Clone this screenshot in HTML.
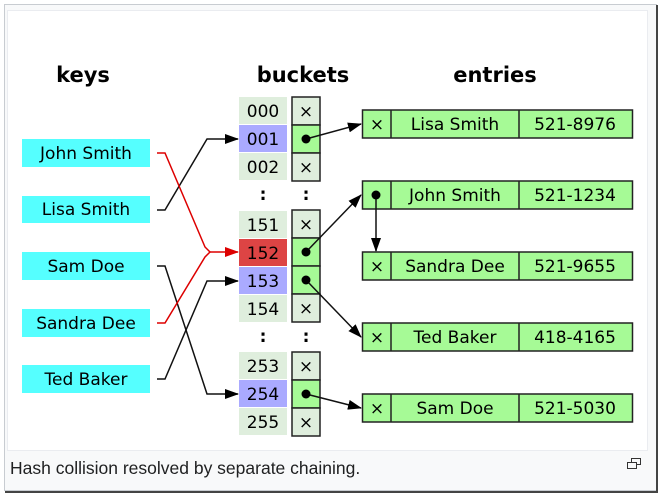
<!DOCTYPE html>
<html><head><meta charset="utf-8"><style>
html,body{margin:0;padding:0;width:662px;height:496px;background:#fff;overflow:hidden}
</style></head><body>
<svg width="662" height="496" viewBox="0 0 662 496" xmlns="http://www.w3.org/2000/svg" font-family="DejaVu Sans, Liberation Sans, sans-serif">
<defs>
<marker id="a" markerWidth="14" markerHeight="10" refX="13" refY="5" orient="auto" markerUnits="userSpaceOnUse"><path d="M0,0 L14,5 L0,10 z" fill="#000"/></marker>
<marker id="r" markerWidth="14" markerHeight="10" refX="13" refY="5" orient="auto" markerUnits="userSpaceOnUse"><path d="M0,0 L14,5 L0,10 z" fill="#d00"/></marker>
</defs>
<rect x="0" y="0" width="662" height="496" fill="#fff"/>
<rect x="4.5" y="4.5" width="652" height="486" fill="#f8f9fa" stroke="#c8ccd1"/>
<line x1="657" y1="5" x2="657" y2="492" stroke="#444" stroke-width="2"/>
<line x1="5" y1="492" x2="658" y2="492" stroke="#444" stroke-width="2"/>
<rect x="7.5" y="10.5" width="640" height="440" fill="#fff" stroke="#eaecf0"/>
<g font-weight="bold" font-size="21" text-anchor="middle" fill="#000">
<text x="83" y="82">keys</text><text x="303" y="82">buckets</text><text x="495" y="82">entries</text></g>
<g font-size="17" text-anchor="middle" fill="#000">
<rect x="22" y="139" width="128" height="28" fill="#5ff"/><text x="86" y="159">John Smith</text>
<rect x="22" y="196" width="128" height="27" fill="#5ff"/><text x="86" y="215">Lisa Smith</text>
<rect x="22" y="252" width="128" height="28" fill="#5ff"/><text x="86" y="272">Sam Doe</text>
<rect x="22" y="309" width="128" height="28" fill="#5ff"/><text x="86" y="329">Sandra Dee</text>
<rect x="22" y="365" width="128" height="28" fill="#5ff"/><text x="86" y="385">Ted Baker</text>
</g>
<g font-size="17" text-anchor="middle">
<rect x="239" y="97" width="48" height="27" fill="#dfeedd"/><text x="263" y="117">000</text>
<rect x="239" y="125" width="48" height="27" fill="#aaf"/><text x="263" y="145">001</text>
<rect x="239" y="153" width="48" height="27" fill="#dfeedd"/><text x="263" y="173">002</text>
<rect x="239" y="211" width="48" height="27" fill="#dfeedd"/><text x="263" y="231">151</text>
<rect x="239" y="239" width="48" height="27" fill="#d44"/><text x="263" y="259">152</text>
<rect x="239" y="267" width="48" height="27" fill="#aaf"/><text x="263" y="287">153</text>
<rect x="239" y="295" width="48" height="27" fill="#dfeedd"/><text x="263" y="315">154</text>
<rect x="239" y="352" width="48" height="27" fill="#dfeedd"/><text x="263" y="372">253</text>
<rect x="239" y="380" width="48" height="27" fill="#aaf"/><text x="263" y="400">254</text>
<rect x="239" y="408" width="48" height="27" fill="#dfeedd"/><text x="263" y="428">255</text>
<text x="263" y="200" font-weight="bold">:</text><text x="306" y="200" font-weight="bold">:</text>
<text x="263" y="342" font-weight="bold">:</text><text x="306" y="342" font-weight="bold">:</text>
</g>
<g stroke="#222" stroke-width="1.5">
<rect x="292" y="97" width="28" height="28" fill="#dfeedd"/><rect x="292" y="125" width="28" height="28" fill="#a6fa96"/><rect x="292" y="153" width="28" height="28" fill="#dfeedd"/>
<rect x="292" y="210" width="28" height="28" fill="#dfeedd"/><rect x="292" y="238" width="28" height="28" fill="#a6fa96"/><rect x="292" y="266" width="28" height="28" fill="#a6fa96"/><rect x="292" y="294" width="28" height="28" fill="#dfeedd"/>
<rect x="292" y="352" width="28" height="28" fill="#dfeedd"/><rect x="292" y="380" width="28" height="28" fill="#a6fa96"/><rect x="292" y="408" width="28" height="28" fill="#dfeedd"/>
</g>
<g font-size="17" text-anchor="middle">
<text x="306" y="117">×</text><text x="306" y="173">×</text><text x="306" y="230">×</text><text x="306" y="314">×</text><text x="306" y="372">×</text><text x="306" y="428">×</text>
</g>
<g stroke="#222" stroke-width="1.5" fill="#a6fa96">
<rect x="362.5" y="110" width="270" height="28"/><line x1="391" y1="110" x2="391" y2="138"/><line x1="519" y1="110" x2="519" y2="138"/>
<rect x="362.5" y="181" width="270" height="28"/><line x1="391" y1="181" x2="391" y2="209"/><line x1="519" y1="181" x2="519" y2="209"/>
<rect x="362.5" y="252" width="270" height="28"/><line x1="391" y1="252" x2="391" y2="280"/><line x1="519" y1="252" x2="519" y2="280"/>
<rect x="362.5" y="323" width="270" height="28"/><line x1="391" y1="323" x2="391" y2="351"/><line x1="519" y1="323" x2="519" y2="351"/>
<rect x="362.5" y="394" width="270" height="28"/><line x1="391" y1="394" x2="391" y2="422"/><line x1="519" y1="394" x2="519" y2="422"/>
</g>
<g font-size="17" text-anchor="middle" fill="#000">
<text x="377" y="130">×</text><text x="455" y="130">Lisa Smith</text><text x="575" y="130">521-8976</text>
<text x="455" y="201">John Smith</text><text x="575" y="201">521-1234</text>
<text x="377" y="272">×</text><text x="455" y="272">Sandra Dee</text><text x="575" y="272">521-9655</text>
<text x="377" y="343">×</text><text x="455" y="343">Ted Baker</text><text x="575" y="343">418-4165</text>
<text x="377" y="414">×</text><text x="455" y="414">Sam Doe</text><text x="575" y="414">521-5030</text>
</g>
<g fill="none" stroke="#111" stroke-width="1.5">
<polyline points="157,210 165,210 207,139 238,139" marker-end="url(#a)"/>
<polyline points="157,266 165,266 207,394 238,394" marker-end="url(#a)"/>
<polyline points="157,379 165,379 207,281 238,281" marker-end="url(#a)"/>
<line x1="306" y1="139" x2="361" y2="124" marker-end="url(#a)"/>
<line x1="306" y1="252" x2="361" y2="195" marker-end="url(#a)"/>
<line x1="376" y1="195" x2="376" y2="251" marker-end="url(#a)"/>
<line x1="306" y1="280" x2="361" y2="337" marker-end="url(#a)"/>
<line x1="306" y1="394" x2="361" y2="408" marker-end="url(#a)"/>
</g>
<g fill="none" stroke="#d00" stroke-width="1.5">
<polyline points="157,153 165,153 205,247 210,252"/>
<polyline points="157,323 165,323 205,257 210,252"/>
<line x1="210" y1="252" x2="238" y2="252" marker-end="url(#r)"/>
</g>
<g fill="#000">
<circle cx="306" cy="139" r="4.5"/><circle cx="306" cy="252" r="4.5"/><circle cx="306" cy="280" r="4.5"/><circle cx="306" cy="394" r="4.5"/><circle cx="376" cy="195" r="4.5"/>
</g>
<text x="10" y="474" font-family="Liberation Sans, sans-serif" font-size="17.5" fill="#202122">Hash collision resolved by separate chaining.</text>
<g fill="none" stroke="#333" stroke-width="1"><rect x="631.5" y="458.5" width="9" height="6"/><rect x="627.5" y="462.5" width="9" height="6" fill="#f8f9fa"/></g>
</svg>
</body></html>
